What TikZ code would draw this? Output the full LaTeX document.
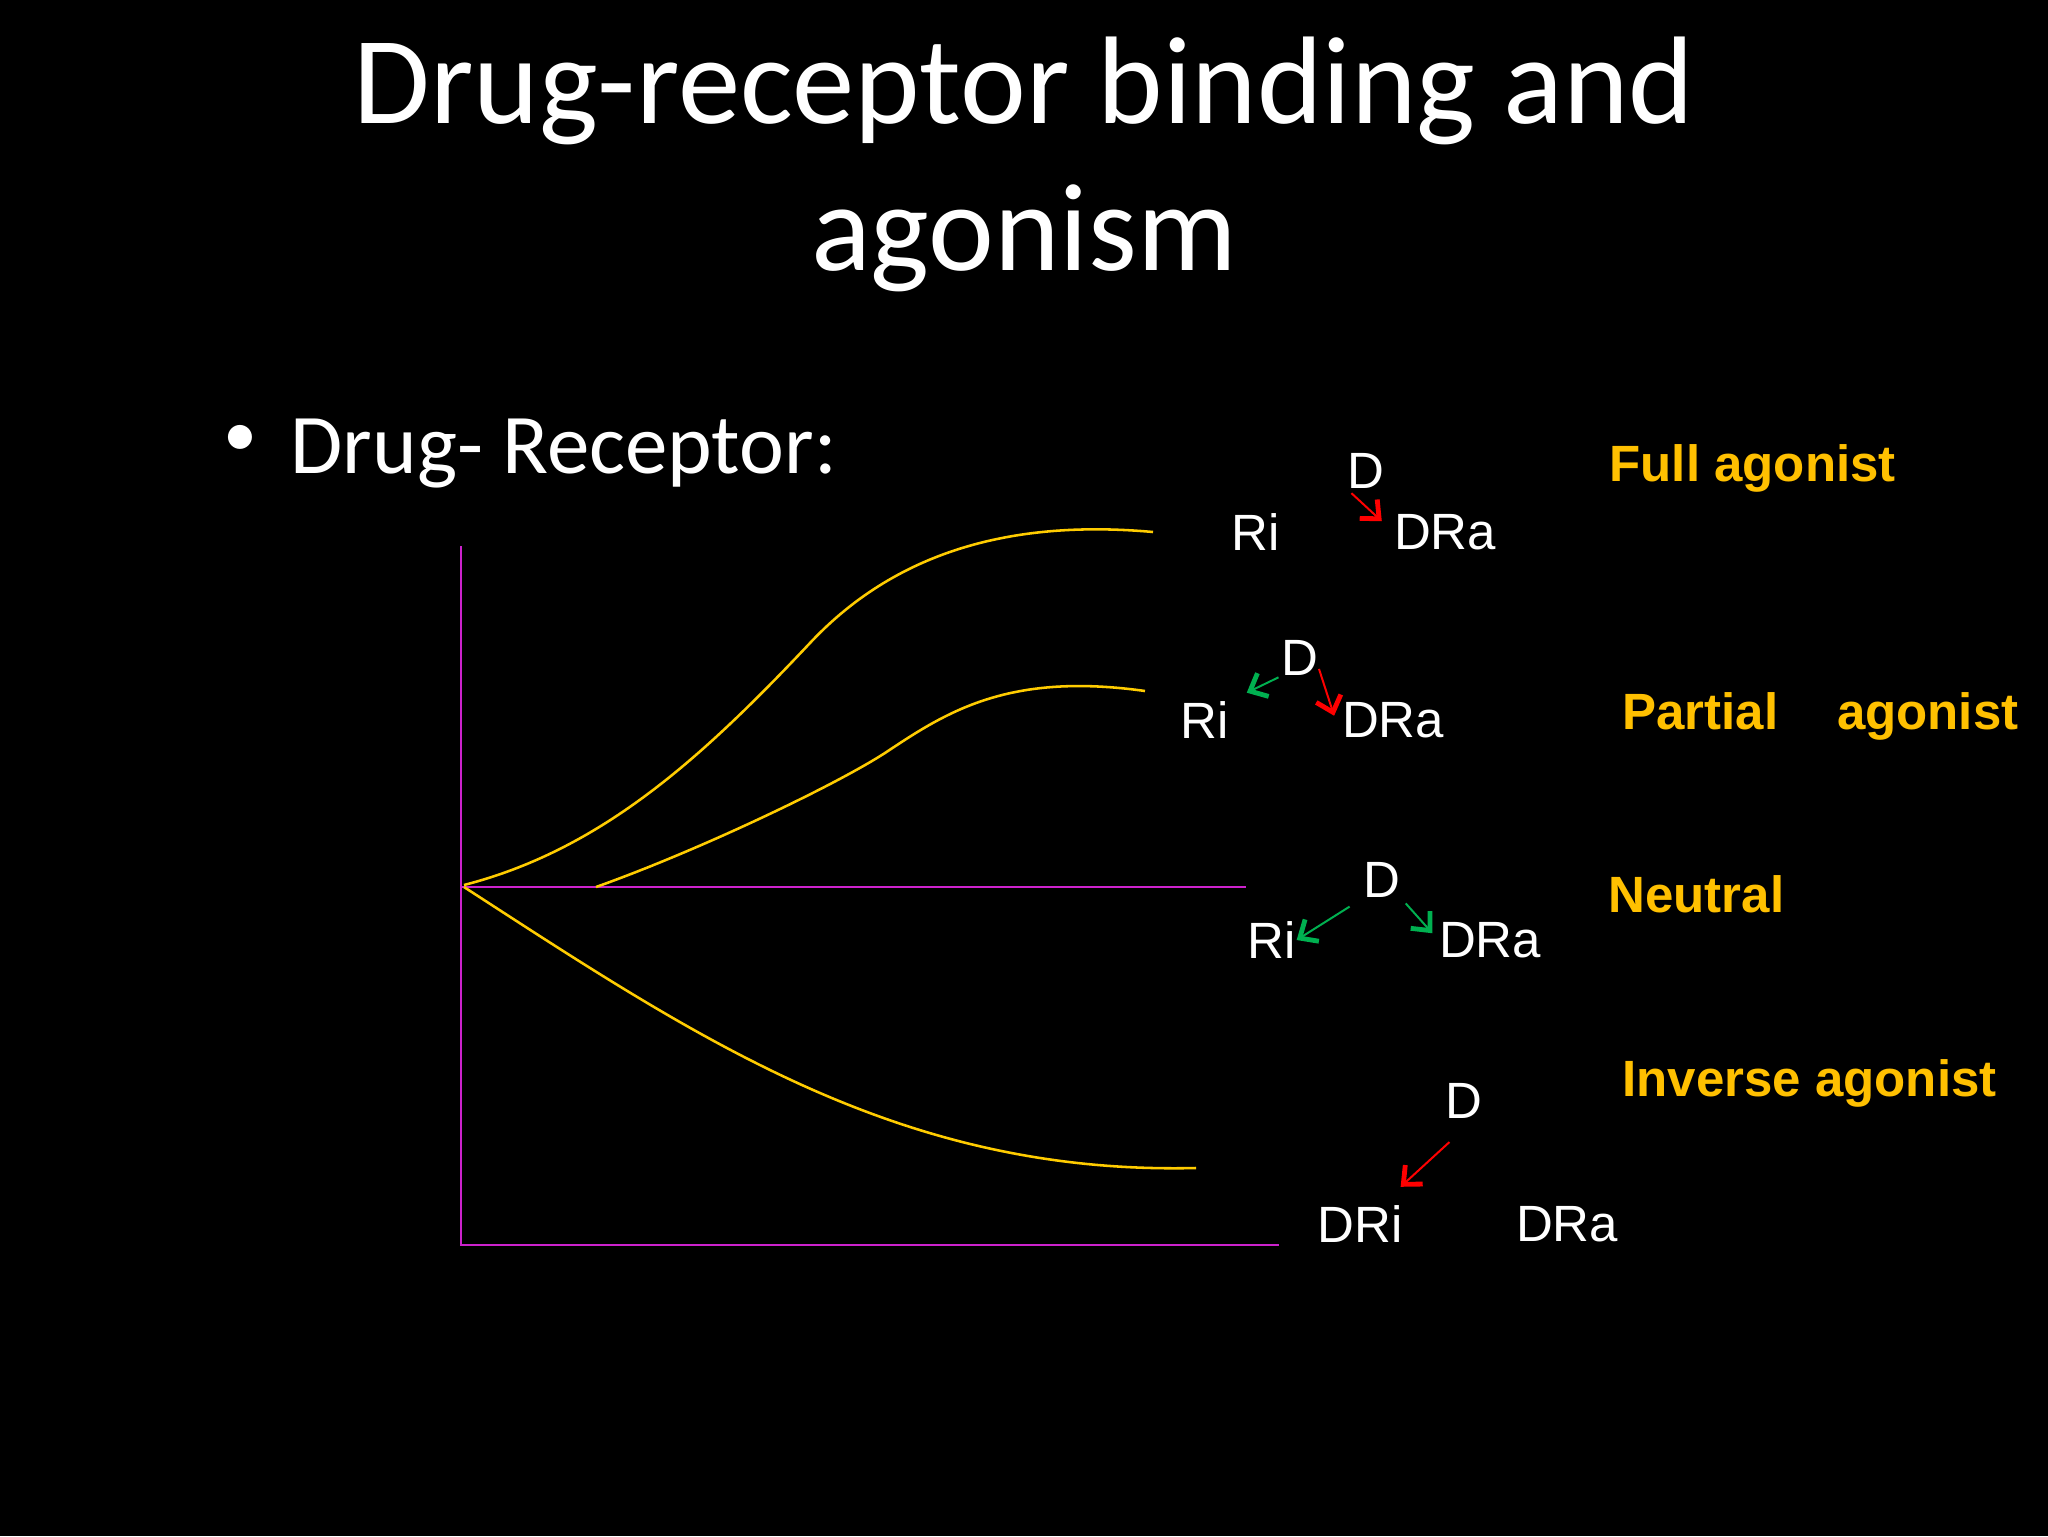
\documentclass[tikz,border=0pt]{standalone}
\usepackage{fontspec}
\setmainfont{Carlito}
\newfontfamily\labelfont{Liberation Sans}
\usetikzlibrary{arrows.meta,positioning}
\definecolor{slide}{HTML}{000000}
\definecolor{chalk}{HTML}{FFFFFF}
\definecolor{axispink}{HTML}{CC22CC}
\definecolor{curvegold}{HTML}{FFCC00}
\definecolor{taggold}{HTML}{FFC000}
\definecolor{bindred}{HTML}{FF0000}
\definecolor{bindgreen}{HTML}{00B050}

\begin{document}
\begin{tikzpicture}[
    x=0.0124023cm, y=-0.0124023cm,
    heading/.style={text=chalk, inner sep=0pt, font=\fontsize{44pt}{53pt}\selectfont, anchor=base},
    species/.style={text=chalk, inner sep=0pt, font=\labelfont\fontsize{18pt}{21pt}\selectfont},
    regime/.style={text=taggold, inner sep=0pt, anchor=base west,
      font=\labelfont\bfseries\fontsize{18pt}{21pt}\selectfont},
    axisline/.style={draw=axispink, line width=1pt},
    response/.style={draw=curvegold, line width=0.9pt},
    bind/.style={line width=0.7pt, -{Straight Barb[length=1.8mm, width=3.2mm, line width=1.7pt]}}
  ]
  \fill[slide] (0,0) rectangle (2048,1536);

  % title and bullet
  \node[heading] (title) at (1024,124) {Drug-receptor binding and};
  \node[heading] (titlerest) at (1024,270) {agonism};
  \node[text=chalk, inner sep=0pt, anchor=base west,
    font=\fontsize{30pt}{36pt}\selectfont] (subhead) at (290,473) {Drug- Receptor:};
  \node[text=chalk, inner sep=0pt, font=\fontsize{24pt}{28pt}\selectfont] (dot) at (240,441) {\textbullet};

  % axes
  \coordinate (origin) at (461,1245);
  \coordinate (ytop) at (461,546);
  \coordinate (xend) at (1279,1245);
  \coordinate (basel) at (461,887);
  \coordinate (baser) at (1246,887);
  \draw[axisline] (ytop) -- (origin) -- (xend);
  \draw[axisline] (basel) -- (baser);

  % response curves
  \draw[response] (464,885) .. controls (600,850) and (700,760) .. (810,643)
    .. controls (900,547) and (1020,520) .. (1153,532);
  \draw[response] (596,887) .. controls (700,850) and (840,783) .. (888,751)
    .. controls (948,711) and (1010,672) .. (1145,691);
  \draw[response] (464,887) .. controls (700,1040) and (900,1175) .. (1196,1168);

  % full agonist
  \node[species] (d1) at (1366,471) {D};
  \node[species] (ri1) at (1256,532) {Ri};
  \node[species] (dra1) at (1445,532) {DRa};
  \draw[bind, bindred, shorten <=2.1pt, shorten >=5.6pt] (d1.south west) -- (dra1.west);

  % partial agonist
  \node[species] (d2) at (1300,658) {D};
  \node[species] (ri2) at (1205,720) {Ri};
  \node[species] (dra2) at (1393,720) {DRa};
  \draw[bind, bindgreen, shorten <=1pt, shorten >=6.7pt] (d2.south west) -- (ri2.north east);
  \draw[bind, bindred, shorten >=8.4pt] (d2.-30) -- (dra2.south west);

  % neutral
  \node[species] (d3) at (1382,880) {D};
  \node[species] (ri3) at (1272,940) {Ri};
  \node[species] (dra3) at (1490,940) {DRa};
  \draw[bind, bindgreen, shorten <=5.6pt] (d3.south west) -- (ri3.east);
  \draw[bind, bindgreen, shorten <=2.5pt, shorten >=3.2pt] (d3.south east) -- (dra3.west);

  % inverse agonist
  \node[species] (d4) at (1464,1101) {D};
  \node[species] (dri4) at (1360,1224) {DRi};
  \node[species] (dra4) at (1567,1224) {DRa};
  \draw[bind, bindred, shorten <=12pt, shorten >=9.5pt] (d4.-60) -- (dri4);

  % regime labels
  \node[regime] (full) at (1609,481) {Full agonist};
  \node[regime] (partial) at (1622,729) {Partial\hspace{20.7pt}agonist};
  \node[regime] (neutral) at (1608,912) {Neutral};
  \node[regime] (inverse) at (1622,1096) {Inverse agonist};
\end{tikzpicture}
\end{document}
